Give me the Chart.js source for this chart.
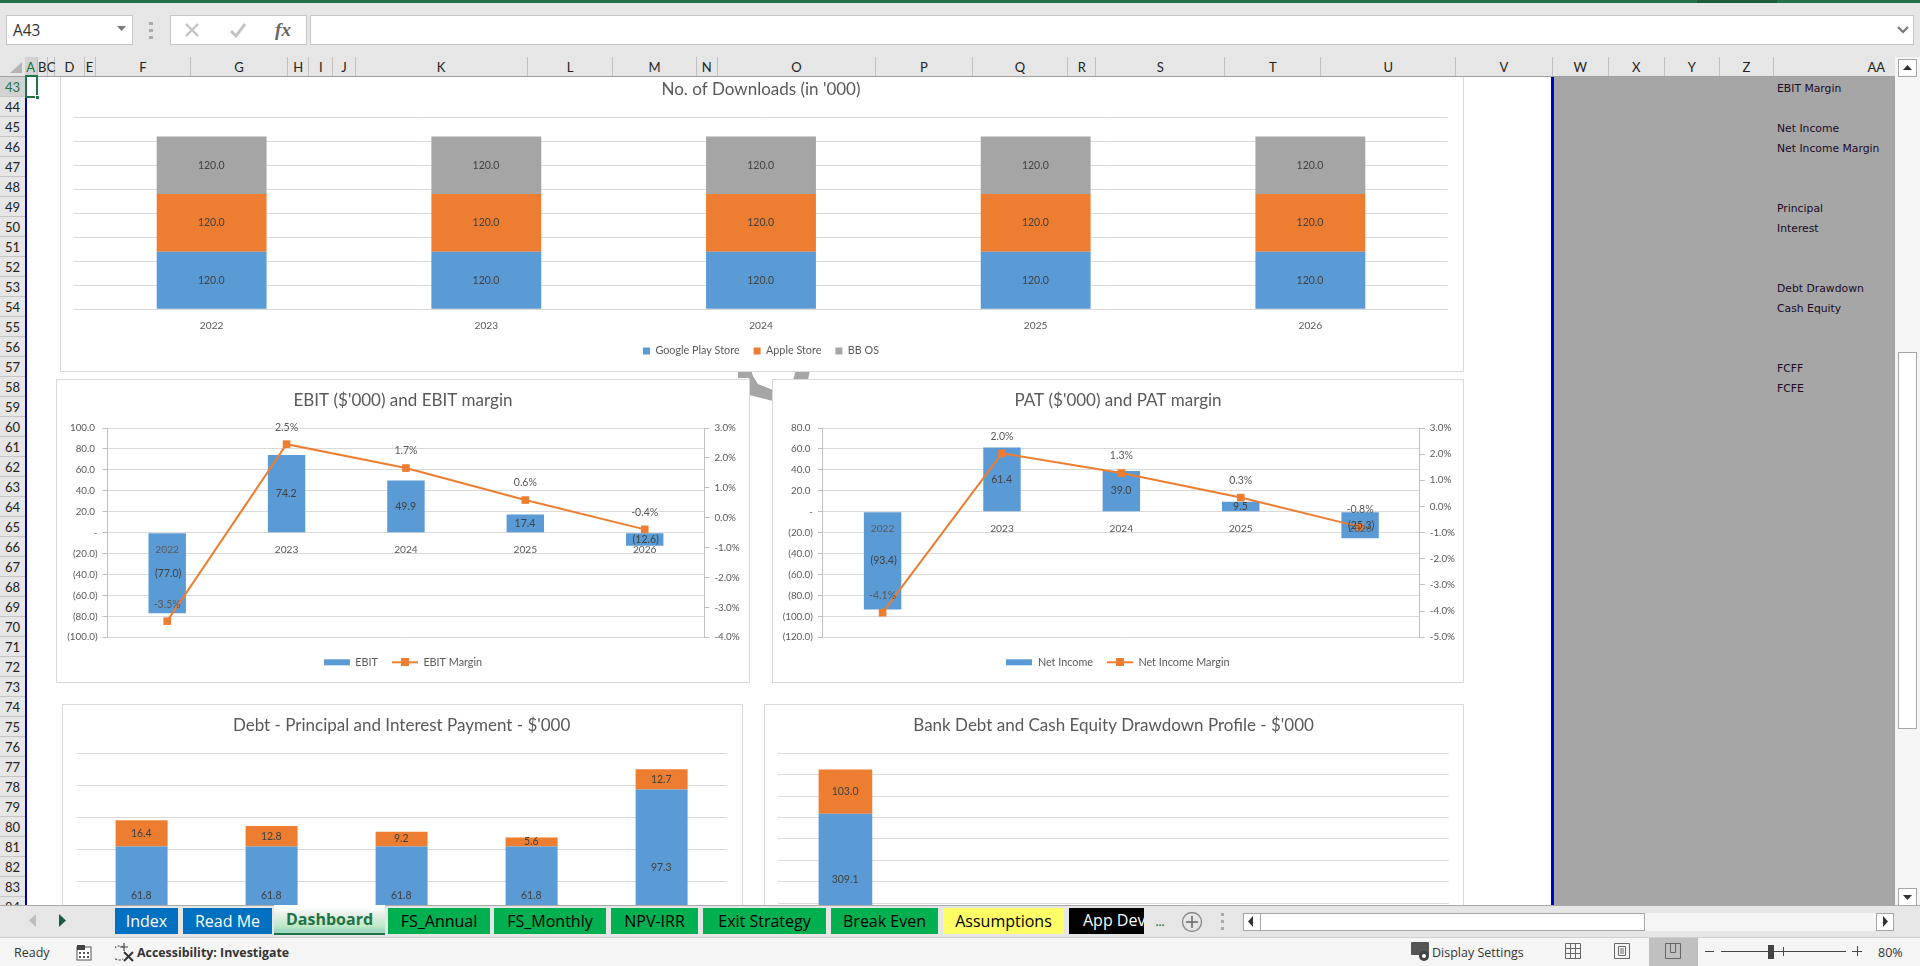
<!DOCTYPE html>
<html>
<head>
<meta charset="utf-8">
<title>Dashboard</title>
<script src="https://cdn.jsdelivr.net/npm/chart.js@4"></script>
<style>
html, body { margin: 0; padding: 0; width: 1920px; height: 966px; overflow: hidden; background: #fff; font-family: "Open Sans", sans-serif; }
.abs, canvas { position: absolute; }
.abs { white-space: nowrap; box-sizing: border-box; }
canvas { background: #fff; outline: 1px solid #d9d9d9; z-index: 2; }
svg { display: block; }
.chrome { z-index: 5; }
</style>
</head>
<body>
<svg class="abs" style="left:0;top:0;z-index:1" width="1000" height="420">
  <polygon fill="#a6a6a6" points="738,370 751,370 753,376 758,384 773,390 773,401 749,395 749,378 738,378"/>
  <polygon fill="#a6a6a6" points="796,370 810,370 808,380 793,380"/>
</svg>
<div id="ui"></div>
<canvas id="downloads"></canvas>
<canvas id="ebit"></canvas>
<canvas id="pat"></canvas>
<canvas id="debt"></canvas>
<canvas id="bank"></canvas>
<script>
// chart data
const years = ['2022', '2023', '2024', '2025', '2026']

const googlePlay = [120, 120, 120, 120, 120]
const appleStore = [120, 120, 120, 120, 120]
const bbOs = [120, 120, 120, 120, 120]

const ebit = [-77.0, 74.2, 49.9, 17.4, -12.6]
const ebitMargin = [-3.46, 2.46, 1.66, 0.59, -0.39]

const netIncome = [-93.4, 61.4, 39.0, 9.5, -25.3]
const netIncomeMargin = [-4.06, 2.03, 1.28, 0.34, -0.78]

const principal = [61.8, 61.8, 61.8, 61.8, 97.3]
const interest = [16.4, 12.8, 9.2, 5.6, 12.7]

const debtDrawdown = [309.1, 0, 0, 0, 0]
const cashEquity = [103.0, 0, 0, 0, 0]

const sideLabels = [['EBIT Margin', 88], ['Net Income', 128], ['Net Income Margin', 148], ['Principal', 208], ['Interest', 228],
  ['Debt Drawdown', 288], ['Cash Equity', 308], ['FCFF', 368], ['FCFE', 388]]

// page positions of the frames and plot areas
const frames = {
  downloads: {x: 61, y: 76, w: 1402, h: 295, left: 74.3, right: 1447.7, top: 117.3, bottom: 309.3, titleY: 90, legendY: 351},
  ebit: {x: 57, y: 380, w: 692, h: 302, left: 107.5, right: 704.4, top: 428, bottom: 637.3, titleY: 401, legendY: 662.3},
  pat: {x: 773, y: 380, w: 690, h: 302, left: 822.9, right: 1419.8, top: 428, bottom: 637.3, titleY: 401, legendY: 662.3},
  debt: {x: 63, y: 705, w: 679, h: 300, left: 76.6, right: 726.6, top: 753.3, bottom: 945.3, titleY: 726, legendY: 990},
  bank: {x: 765, y: 705, w: 698, h: 300, left: 778.4, right: 1448.8, top: 753.3, bottom: 946, titleY: 726, legendY: 990}
}

const BLUE = '#5B9BD5', ORANGE = '#ED7D31', GREY = '#A5A5A5'
const FONT = 'Lato'
const TITLE_SIZE = 17, LABEL_SIZE = 10.5, XTICK_SIZE = 10.2, YTICK_SIZE = 9.8, LEGEND_SIZE = 10.8, LEGEND_PAD = 14

function money(v) {
  if (v === 0) return '-'
  return v < 0 ? '(' + Math.abs(v).toFixed(1) + ')' : v.toFixed(1) + ' '
}
function pct(v) {
  return v.toFixed(1) + '%'
}

// no datalabels plugin here, so labels are drawn from the elements
const valueLabels = {
  id: 'valueLabels',
  afterDatasetsDraw(chart) {
    const ctx = chart.ctx
    ctx.save()
    ctx.font = LABEL_SIZE + 'px ' + FONT
    ctx.textAlign = 'center'
    ctx.textBaseline = 'middle'
    chart.data.datasets.forEach((ds, i) => {
      chart.getDatasetMeta(i).data.forEach((el, j) => {
        const v = ds.data[j]
        if (!v) return
        if (ds.type === 'line') {
          ctx.fillStyle = '#595959'
          ctx.fillText(pct(v), el.x, el.y - 17)
        } else {
          ctx.fillStyle = '#404040'
          ctx.fillText(money(v), el.x + 1, (el.y + el.base) / 2)
        }
      })
    })
    ctx.restore()
  }
}

function swatch(color, marker) {
  const c = document.createElement('canvas')
  c.width = 26
  c.height = 8
  const g = c.getContext('2d')
  g.fillStyle = color
  if (marker) {
    g.fillRect(0, 3, 26, 2)
    g.fillRect(9, 0, 8, 8)
  } else {
    g.fillRect(0, 1, 26, 6)
  }
  return c
}

function titleOpts(f, text) {
  const lh = TITLE_SIZE * 1.2
  const center = f.titleY - f.y
  return {
    display: true, text: text, color: '#595959',
    font: {family: FONT, size: TITLE_SIZE, weight: 'normal'},
    padding: {top: center - lh / 2, bottom: f.top - f.titleY - lh / 2}
  }
}

function legendOpts(f, combo) {
  // the empty legend title only pushes the entries down from the plot
  const gap = f.legendY - f.bottom - LEGEND_PAD - LEGEND_SIZE / 2
  const labels = {color: '#595959', padding: LEGEND_PAD, font: {family: FONT, size: LEGEND_SIZE}}
  if (combo) {
    labels.usePointStyle = true
    labels.pointStyleWidth = 26
    labels.generateLabels = chart => {
      const items = Chart.defaults.plugins.legend.labels.generateLabels(chart)
      items.forEach(it => {
        const ds = chart.data.datasets[it.datasetIndex]
        it.pointStyle = swatch(ds.backgroundColor, ds.type === 'line')
      })
      return items
    }
  } else {
    labels.boxWidth = 7
    labels.boxHeight = 7
  }
  return {
    position: 'bottom', reverse: combo, labels: labels,
    title: {display: true, text: '', font: {size: 1}, padding: {top: gap - 1.2, bottom: 0}}
  }
}

function bottomPadding(f) {
  const gap = f.legendY - f.bottom - LEGEND_PAD - LEGEND_SIZE / 2
  return f.y + f.h - f.bottom - (gap + LEGEND_SIZE + LEGEND_PAD + 10)
}

function xAxis(stacked) {
  return {
    position: {y: 0}, offset: true, stacked: stacked,
    grid: {display: false},
    border: {color: '#d9d9d9'},
    ticks: {color: '#595959', z: 1, padding: 2.5, maxRotation: 0, font: {family: FONT, size: XTICK_SIZE}}
  }
}

function stackedChart(id, title, sets, yMax, step) {
  const f = frames[id]
  const el = document.getElementById(id)
  el.style.left = f.x + 'px'
  el.style.top = f.y + 'px'
  el.width = f.w
  el.height = f.h
  return new Chart(el, {
    type: 'bar',
    data: {
      labels: years,
      datasets: sets.map(s => ({label: s[0], data: s[1], backgroundColor: s[2], barPercentage: 0.4, categoryPercentage: 1}))
    },
    options: {
      responsive: false, animation: false,
      layout: {padding: {left: f.left - f.x, right: f.x + f.w - f.right, bottom: bottomPadding(f)}},
      plugins: {title: titleOpts(f, title), legend: legendOpts(f, false), tooltip: {enabled: false}},
      scales: {
        x: xAxis(true),
        y: {
          stacked: true, min: 0, max: yMax,
          ticks: {display: false, stepSize: step},
          grid: {color: '#d9d9d9', drawTicks: false},
          border: {display: false},
          afterFit: s => { s.width = 0 }
        }
      }
    },
    plugins: [valueLabels]
  })
}

function comboChart(id, title, barName, bars, lineName, line, yMin, yMax, rMin, rMax) {
  const f = frames[id]
  const el = document.getElementById(id)
  el.style.left = f.x + 'px'
  el.style.top = f.y + 'px'
  el.width = f.w
  el.height = f.h
  const tickFont = {family: FONT, size: YTICK_SIZE}
  return new Chart(el, {
    type: 'bar',
    data: {
      labels: years,
      datasets: [
        {type: 'line', label: lineName, data: line, yAxisID: 'y2', borderColor: ORANGE, backgroundColor: ORANGE, borderWidth: 2,
          pointStyle: 'rect', pointRadius: 5.4, pointBackgroundColor: ORANGE, pointBorderWidth: 0, tension: 0, clip: false},
        {type: 'bar', label: barName, data: bars, yAxisID: 'y', backgroundColor: BLUE, barPercentage: 0.3135, categoryPercentage: 1}
      ]
    },
    options: {
      responsive: false, animation: false,
      layout: {padding: {bottom: bottomPadding(f)}},
      plugins: {title: titleOpts(f, title), legend: legendOpts(f, true), tooltip: {enabled: false}},
      scales: {
        x: xAxis(false),
        y: {
          position: 'left', min: yMin, max: yMax,
          ticks: {stepSize: 20, color: '#595959', font: tickFont, padding: 5, callback: v => money(v)},
          grid: {color: '#d9d9d9', tickColor: '#bfbfbf', tickLength: 5},
          border: {color: '#bfbfbf'},
          afterFit: s => { s.width = f.left - f.x }
        },
        y2: {
          position: 'right', min: rMin, max: rMax,
          ticks: {stepSize: 1, color: '#595959', font: tickFont, padding: 5, callback: v => pct(v)},
          grid: {drawOnChartArea: false, tickColor: '#bfbfbf', tickLength: 5},
          border: {color: '#bfbfbf'},
          afterFit: s => { s.width = f.x + f.w - f.right }
        }
      }
    },
    plugins: [valueLabels]
  })
}

stackedChart('downloads', "No. of Downloads (in '000)", [['Google Play Store', googlePlay, BLUE], ['Apple Store', appleStore, ORANGE], ['BB OS', bbOs, GREY]], 400, 50)
comboChart('ebit', "EBIT ($'000) and EBIT margin", 'EBIT', ebit, 'EBIT Margin', ebitMargin, -100, 100, -4, 3)
comboChart('pat', "PAT ($'000) and PAT margin", 'Net Income', netIncome, 'Net Income Margin', netIncomeMargin, -120, 80, -5, 3)
stackedChart('debt', "Debt - Principal and Interest Payment - $'000", [['Principal', principal, BLUE], ['Interest', interest, ORANGE]], 120, 20)
stackedChart('bank', "Bank Debt and Cash Equity Drawdown Profile - $'000", [['Debt Drawdown', debtDrawdown, BLUE], ['Cash Equity', cashEquity, ORANGE]], 450, 50)

// excel window around the charts
const ui = document.getElementById('ui')
function box(x, y, w, h, css, text) {
  const d = document.createElement('div')
  d.className = 'abs chrome'
  d.style.cssText += 'left:' + x + 'px;top:' + y + 'px;width:' + w + 'px;height:' + h + 'px;' + (css || '')
  if (text !== undefined) d.textContent = text
  ui.appendChild(d)
  return d
}
function centered(size, color, font) {
  return 'display:flex;align-items:center;justify-content:center;font-size:' + size + 'px;color:' + color + ';font-family:' + (font || FONT) + ';'
}
function icon(x, y, w, h, svg) {
  const d = box(x, y, w, h)
  d.innerHTML = '<svg width="' + w + '" height="' + h + '" viewBox="0 0 ' + w + ' ' + h + '">' + svg + '</svg>'
}

box(0, 0, 1920, 57, 'background:#e6e6e6')
box(0, 0, 1920, 3, 'background:#217346')
box(1697, 0, 80, 3, 'background:#1a5c38')
box(6, 15, 127, 30, 'background:#fff;border:1px solid #c6c6c6;padding:4px 0 0 6px;font-size:15.4px;color:#333', 'A43')
icon(117, 26, 10, 6, '<polygon points="0,0 9,0 4.5,5" fill="#777"/>')
icon(149, 22, 5, 17, '<g fill="#aaa"><rect width="4" height="3"/><rect y="7" width="4" height="3"/><rect y="14" width="4" height="3"/></g>')
box(170, 15, 137, 30, 'background:#fff;border:1px solid #c6c6c6')
icon(184, 22, 16, 16, '<path d="M2 2 L14 14 M14 2 L2 14" stroke="#c4c4c4" stroke-width="2.4"/>')
icon(229, 22, 18, 16, '<path d="M2 9 L7 14 L16 2" stroke="#c4c4c4" stroke-width="3" fill="none"/>')
box(272, 15, 22, 30, centered(19, '#666', '"Liberation Serif"') + 'font-style:italic;font-weight:700', 'fx')
box(310, 15, 1604, 30, 'background:#fff;border:1px solid #c6c6c6')
icon(1897, 26, 12, 8, '<path d="M1 1 L6 6 L11 1" stroke="#777" stroke-width="2.2" fill="none"/>')

// column headers
const colNames = ['A', 'B', 'C', 'D', 'E', 'F', 'G', 'H', 'I', 'J', 'K', 'L', 'M', 'N', 'O', 'P', 'Q', 'R', 'S', 'T', 'U', 'V', 'W', 'X', 'Y', 'Z', 'AA']
const colEdges = [25, 37.5, 47.8, 55.5, 84.5, 95.5, 191.4, 287.8, 309.4, 333.5, 355.5, 527.8, 613.5, 696.8, 717.7, 876.2, 972.6, 1068.5, 1096.3, 1225.4, 1321.3, 1456.3, 1552.7, 1608.7, 1664.7, 1719.7, 1774.3, 1895]
box(0, 57, 1920, 20, 'background:#e6e6e6')
box(0, 76, 1895, 1, 'background:#a0a0a0')
icon(10, 62, 13, 12, '<polygon points="12,0 12,11 0,11" fill="#b5b5b5"/>')
colNames.forEach((name, i) => {
  const last = name === 'AA'
  const css = centered(13, '#222') + 'border-right:1px solid #c0c0c0;' + (i === 0 ? 'background:#d2d2d2;color:#217346;' : '') +
    (last ? 'justify-content:flex-end;padding-right:10px;border:0;' : '')
  box(colEdges[i], 57, colEdges[i + 1] - colEdges[i], 19, css, name)
})

// row headers
const rowNumbers = []
for (let r = 43; r <= 84; r++) rowNumbers.push(r)
rowNumbers.forEach((r, i) => {
  const css = centered(13, r === 43 ? '#217346' : '#222') + 'background:' + (r === 43 ? '#d2d2d2' : '#e6e6e6') + ';border-bottom:1px solid #c6c6c6;'
  box(0, 77 + i * 20, 25, 20, css, r)
})
box(25, 77, 1.5, 830, 'background:#0000b0')
box(25, 75, 13, 22.5, 'border:2px solid #217346')
box(34.5, 94.5, 5, 5, 'background:#217346;border:1px solid #fff')

// grey panel on the right
box(1551, 77, 3, 830, 'background:#0000cc')
box(1554, 77, 341, 830, 'background:#a6a6a6')
sideLabels.forEach(s => {
  box(1777, s[1] - 10, 118, 20, 'display:flex;align-items:center;font-family:\'DejaVu Sans\';font-size:10.8px;color:#1a0a24', s[0])
})

// vertical scrollbar
box(1895, 57, 25, 850, 'background:#f5f5f5')
box(1898, 59, 19, 18, 'background:#fff;border:1px solid #a6a6a6')
icon(1903, 65, 10, 6, '<polygon points="0,5 9,5 4.5,0" fill="#333"/>')
box(1898, 352, 19, 377, 'background:#fff;border:1px solid #a6a6a6')
box(1898, 888, 19, 18, 'background:#fff;border:1px solid #a6a6a6')
icon(1903, 895, 10, 6, '<polygon points="0,0 9,0 4.5,5" fill="#333"/>')

// sheet tabs
box(0, 905, 1920, 32, 'background:#e6e6e6;border-top:1px solid #a9a9a9')
box(0, 937, 1920, 29, 'background:#f5f5f5;border-top:1px solid #cfcfcf')
icon(29, 914, 8, 14, '<polygon points="7,0 7,13 0,6.5" fill="#bdbdbd"/>')
icon(59, 914, 8, 14, '<polygon points="0,0 0,13 7,6.5" fill="#1c5c3c"/>')
const tabs = [['Index', 115, 178, '#0070C0', '#fff'], ['Read Me', 183, 272, '#0070C0', '#fff'], ['FS_Annual', 388, 490, '#00B050', '#000'],
  ['FS_Monthly', 494, 606, '#00B050', '#000'], ['NPV-IRR', 611, 698, '#00B050', '#000'], ['Exit Strategy', 703, 826, '#00B050', '#000'],
  ['Break Even', 831, 938, '#00B050', '#000'], ['Assumptions', 943, 1064, '#FFFF66', '#000']]
tabs.forEach(t => box(t[1], 908, t[2] - t[1], 26, centered(16, t[4], '"Open Sans"') + 'background:' + t[3], t[0]))
box(1069, 908, 75, 26, 'background:#000;color:#fff;font-size:16px;padding-left:14px;line-height:25px;overflow:hidden', 'App Dev')
box(274, 905, 111, 30, centered(16, '#217346', '"Open Sans"') + 'font-weight:700;background:linear-gradient(#fff 8%,#e6eee8 35%,#bfe8c8 75%,#9fd8c0 92%);border-bottom:2px solid #217346', 'Dashboard')
box(1150, 908, 20, 26, centered(13, '#217346'), '...')
icon(1181, 911, 22, 22, '<circle cx="11" cy="11" r="9.5" fill="none" stroke="#888" stroke-width="1.3"/><path d="M11 5 V17 M5 11 H17" stroke="#666" stroke-width="1.5"/>')
icon(1221, 913, 4, 18, '<g fill="#aaa"><rect width="3" height="3"/><rect y="7" width="3" height="3"/><rect y="14" width="3" height="3"/></g>')
box(1243, 913, 18, 18, 'background:#fff;border:1px solid #a6a6a6')
icon(1248, 916, 6, 12, '<polygon points="5,0 5,11 0,5.5" fill="#333"/>')
box(1260, 913, 385, 18, 'background:#fff;border:1px solid #a6a6a6')
box(1645, 913, 231, 18, 'background:#f5f5f5')
box(1876, 913, 18, 18, 'background:#fff;border:1px solid #a6a6a6')
icon(1883, 916, 6, 12, '<polygon points="0,0 0,11 5,5.5" fill="#333"/>')

// status bar
box(14, 942, 50, 20, 'display:flex;align-items:center;font-size:12.5px;color:#333', 'Ready')
icon(76, 943, 16, 18, '<rect x="1" y="4" width="14" height="13" fill="#fff" stroke="#555"/><rect x="1" y="2" width="8" height="5" fill="#444"/><g fill="#555"><rect x="3" y="9" width="2" height="2"/><rect x="7" y="9" width="2" height="2"/><rect x="11" y="9" width="2" height="2"/><rect x="3" y="13" width="2" height="2"/><rect x="7" y="13" width="2" height="2"/><rect x="11" y="13" width="2" height="2"/></g>')
icon(115, 942, 20, 20, '<path d="M8 5 A7 7 0 1 0 8 17" fill="none" stroke="#444" stroke-width="1.2" stroke-dasharray="2 1.5"/><path d="M9 1 V9 M5 5 H13" stroke="#444" stroke-width="1.2"/><path d="M9 10 L18 19 M18 10 L9 19" stroke="#333" stroke-width="2"/>')
box(137, 942, 170, 20, 'display:flex;align-items:center;font-size:12.4px;font-weight:700;color:#333', 'Accessibility: Investigate')
icon(1411, 942, 20, 20, '<rect x="0" y="0" width="18" height="13" rx="1" fill="#555"/><circle cx="13" cy="14" r="5" fill="#444"/><circle cx="13" cy="14" r="2" fill="#fff"/>')
box(1432, 942, 110, 20, 'display:flex;align-items:center;font-size:12.5px;color:#333', 'Display Settings')
icon(1565, 943, 16, 16, '<path d="M.5 .5 H15.5 V15.5 H.5 Z M5.5 .5 V15.5 M10.5 .5 V15.5 M.5 5.5 H15.5 M.5 10.5 H15.5" fill="none" stroke="#666"/>')
icon(1614, 943, 16, 16, '<path d="M.5 .5 H15.5 V15.5 H.5 Z" fill="none" stroke="#666"/><path d="M4.5 3.5 H11.5 V12.5 H4.5 Z M6 6 H10 M6 8 H10 M6 10 H10" fill="none" stroke="#666"/>')
box(1649, 938, 49, 28, 'background:#c0c0c0')
icon(1665, 943, 16, 16, '<path d="M.5 .5 H15.5 V15.5 H.5 Z M5.5 .5 V9.5 H10.5 V.5" fill="none" stroke="#666"/>')
box(1705, 951, 9, 1, 'background:#444')
box(1721, 951, 125, 1, 'background:#444')
box(1783, 947, 1, 9, 'background:#444')
box(1768, 945, 6, 14, 'background:#444')
box(1852, 951, 10, 1, 'background:#444')
box(1857, 946, 1, 10, 'background:#444')
box(1878, 942, 30, 20, 'display:flex;align-items:center;font-size:12.5px;color:#333', '80%')
</script>
</body>
</html>
